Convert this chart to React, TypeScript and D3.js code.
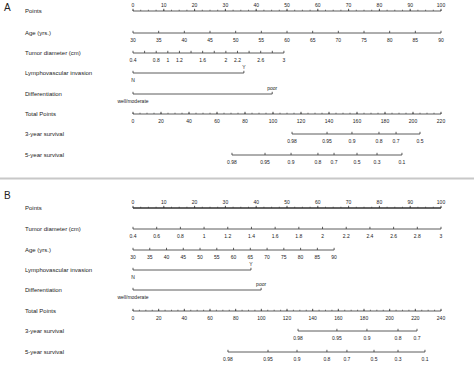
import { useEffect } from 'react'
import * as d3 from 'd3'

// ---- Panel A data ----
const pointsTicks = [0, 10, 20, 30, 40, 50, 60, 70, 80, 90, 100]
const ageTicksA = [30, 35, 40, 45, 50, 55, 60, 65, 70, 75, 80, 85, 90]
const ageMaxPtsA = 100
const tumorTicksA = [0.4, 0.6, 0.8, 1, 1.2, 1.4, 1.6, 1.8, 2, 2.2, 2.4, 2.6, 2.8, 3]
const tumorLabelsA = [0.4, 0.8, 1, 1.2, 1.6, 2, 2.2, 2.6, 3]
const tumorMaxPtsA = 49
const lviPtsA = 36
const diffPtsA = 45.2
const totalTicksA = [0, 20, 40, 60, 80, 100, 120, 140, 160, 180, 200, 220]
const surv3A = [0.98, 0.95, 0.9, 0.8, 0.7, 0.5]
const surv3TotalA = [113.6, 138.6, 156.4, 175.7, 187.9, 205]
const surv5A = [0.98, 0.95, 0.9, 0.8, 0.7, 0.5, 0.3, 0.1]
const surv5TotalA = [70.7, 94.3, 112.9, 132.1, 143.6, 160, 174.3, 192.1]

// ---- Panel B data ----
const tumorTicksB = [0.4, 0.6, 0.8, 1, 1.2, 1.4, 1.6, 1.8, 2, 2.2, 2.4, 2.6, 2.8, 3]
const tumorMaxPtsB = 100
const ageTicksB = [30, 35, 40, 45, 50, 55, 60, 65, 70, 75, 80, 85, 90]
const ageMaxPtsB = 65.3
const lviPtsB = 38.3
const diffPtsB = 41.6
const totalTicksB = [0, 20, 40, 60, 80, 100, 120, 140, 160, 180, 200, 220, 240]
const surv3B = [0.98, 0.95, 0.9, 0.8, 0.7]
const surv3TotalB = [128.6, 158.9, 182.3, 206.5, 221.3]
const surv5B = [0.98, 0.95, 0.9, 0.8, 0.7, 0.5, 0.3, 0.1]
const surv5TotalB = [74, 105.2, 127.8, 151.1, 166.7, 187.8, 206.5, 227.5]

const W = 474
const H = 365
const X0 = 133
const X1 = 441
const LABEL_X = 25
const INK = '#333'
const FONT = 'Liberation Sans, Arial, sans-serif'

type Tick = { x: number; label?: string; above?: boolean }
type Row = {
  name: string
  y: number
  ticks: Tick[]
  minor?: number[]
  labelsAbove?: boolean
  lineWidth?: number
}

const fmt = (v: number) => String(v)

function continuousRow(name: string, y: number, ticks: number[], labels: number[], maxPts: number): Row {
  const pts = d3.scaleLinear().domain([0, 100]).range([X0, X1])
  const v = d3.scaleLinear().domain([ticks[0], ticks[ticks.length - 1]]).range([pts(0), pts(maxPts)])
  return {
    name, y,
    ticks: ticks.map(t => ({ x: v(t), label: labels.some(l => Math.abs(l - t) < 1e-9) ? fmt(t) : undefined }))
  }
}

function binaryRow(name: string, y: number, lo: string, hi: string, hiPts: number): Row {
  const pts = d3.scaleLinear().domain([0, 100]).range([X0, X1])
  return { name, y, ticks: [{ x: pts(0), label: lo }, { x: pts(hiPts), label: hi, above: true }] }
}

function survivalRow(name: string, y: number, vals: number[], totals: number[], maxTotal: number): Row {
  const tp = d3.scaleLinear().domain([0, maxTotal]).range([X0, X1])
  return { name, y, ticks: vals.map((s, i) => ({ x: tp(totals[i]), label: fmt(s) })) }
}

function pointsRow(y: number, lw: number): Row {
  const pts = d3.scaleLinear().domain([0, 100]).range([X0, X1])
  return {
    name: 'Points', y, labelsAbove: true, lineWidth: lw,
    ticks: pointsTicks.map(t => ({ x: pts(t), label: fmt(t) })),
    minor: d3.range(0, 100.01, 2.5).map(t => pts(t))
  }
}

function totalRow(y: number, ticks: number[]): Row {
  const max = ticks[ticks.length - 1]
  const tp = d3.scaleLinear().domain([0, max]).range([X0, X1])
  return {
    name: 'Total Points', y,
    ticks: ticks.map(t => ({ x: tp(t), label: fmt(t) })),
    minor: d3.range(0, max + 0.01, 5).map(t => tp(t))
  }
}

const rowsA: Row[] = [
  pointsRow(11, 0.8),
  continuousRow('Age (yrs.)', 33, ageTicksA, ageTicksA, ageMaxPtsA),
  continuousRow('Tumor diameter (cm)', 53, tumorTicksA, tumorLabelsA, tumorMaxPtsA),
  binaryRow('Lymphovascular invasion', 73, 'N', 'Y', lviPtsA),
  binaryRow('Differentiation', 94, 'well/moderate', 'poor', diffPtsA),
  totalRow(114, totalTicksA),
  survivalRow('3-year survival', 134, surv3A, surv3TotalA, 220),
  survivalRow('5-year survival', 155, surv5A, surv5TotalA, 220),
]

const rowsB: Row[] = [
  pointsRow(208, 1.5),
  continuousRow('Tumor diameter (cm)', 229, tumorTicksB, tumorTicksB, tumorMaxPtsB),
  continuousRow('Age (yrs.)', 250, ageTicksB, ageTicksB, ageMaxPtsB),
  binaryRow('Lymphovascular invasion', 270, 'N', 'Y', lviPtsB),
  binaryRow('Differentiation', 290, 'well/moderate', 'poor', diffPtsB),
  totalRow(311, totalTicksB),
  survivalRow('3-year survival', 331, surv3B, surv3TotalB, 240),
  survivalRow('5-year survival', 352, surv5B, surv5TotalB, 240),
]

function RowView({ row }: { row: Row }) {
  const xs = row.ticks.map(t => t.x)
  const x0 = Math.min(...xs)
  const x1 = Math.max(...xs)
  return (
    <g>
      <text x={LABEL_X} y={row.y + 2} fontSize={6} fill="#222">{row.name}</text>
      <line x1={x0} x2={x1} y1={row.y} y2={row.y} stroke={INK} strokeWidth={row.lineWidth ?? 0.8} />
      {row.minor?.map((x, i) => (
        <line key={'m' + i} x1={x} x2={x} y1={row.y} y2={row.y - 1.3} stroke={INK} strokeWidth={0.6} />
      ))}
      {row.ticks.map((t, i) => (
        <g key={i}>
          <line x1={t.x} x2={t.x} y1={row.y} y2={row.y - 2.2} stroke={INK} strokeWidth={0.8} />
          {t.label !== undefined && (
            <text
              x={t.x}
              y={row.labelsAbove || t.above ? row.y - 4 : row.y + 8.5}
              fontSize={5}
              textAnchor="middle"
              fill="#222"
            >
              {t.label}
            </text>
          )}
        </g>
      ))}
    </g>
  )
}

export default function App() {
  useEffect(() => {
    document.body.style.margin = '0'
  }, [])
  return (
    <svg width={W} height={H} style={{ display: 'block', background: '#fff', fontFamily: FONT }}>
      <text x={4} y={11} fontSize={10} fill="#222">A</text>
      {rowsA.map((r, i) => <RowView key={'a' + i} row={r} />)}
      <line x1={0} x2={W} y1={178.5} y2={178.5} stroke="#c8c8c8" strokeWidth={2} />
      <text x={4} y={199} fontSize={10} fill="#222">B</text>
      {rowsB.map((r, i) => <RowView key={'b' + i} row={r} />)}
    </svg>
  )
}
